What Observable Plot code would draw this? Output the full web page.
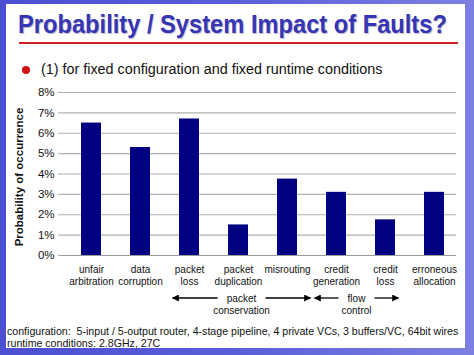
<!DOCTYPE html>
<html>
<head>
<meta charset="utf-8">
<script src="https://cdn.jsdelivr.net/npm/d3@7"></script>
<script src="https://cdn.jsdelivr.net/npm/@observablehq/plot@0.6"></script>
<style>
  html, body { margin: 0; padding: 0; }
  body {
    width: 474px; height: 355px; overflow: hidden; position: relative;
    background: linear-gradient(90deg, #4c4fd2 0%, #5a5ed8 50%, #7d80e2 100%);
    font-family: "Liberation Sans", Arial, sans-serif;
  }
  #panel {
    position: absolute; left: 6px; top: 4px; width: 459px; height: 344px; background: #fff;
  }
  #title {
    position: absolute; left: 18px; top: 10px; font-weight: bold; font-size: 25px;
    color: #3535b5; text-shadow: 1px 1px 1px #b8b8c8; white-space: nowrap;
    transform-origin: 0 0; transform: scaleX(0.947);
  }
  #rule { position: absolute; left: 19px; top: 42px; width: 439px; height: 2px; background: #d42020; }
  #dot { position: absolute; left: 22px; top: 66px; width: 8px; height: 8px; border-radius: 50%; background: #d41010; }
  #bullet { position: absolute; left: 41px; top: 61px; font-size: 14px; color: #111; white-space: nowrap; transform-origin: 0 0; transform: scaleX(1.025); }
  #caption { position: absolute; left: 7px; top: 326px; font-size: 11px; line-height: 11.5px; color: #111; white-space: nowrap; transform-origin: 0 0; transform: scaleX(0.964); }
  #chart { position: absolute; left: 0; top: 0; }
</style>
</head>
<body>
<div id="panel"></div>
<div id="title">Probability / System Impact of Faults?</div>
<div id="rule"></div>
<div id="dot"></div>
<div id="bullet">(1) for fixed configuration and fixed runtime conditions</div>
<div id="chart"></div>
<div id="caption">configuration:&nbsp; 5-input / 5-output router, 4-stage pipeline, 4 private VCs, 3 buffers/VC, 64bit wires<br>runtime conditions: 2.8GHz, 27C</div>
<script>
const faults = ["unfair arbitration", "data corruption", "packet loss", "packet duplication", "misrouting", "credit generation", "credit loss", "erroneous allocation"];
const tickLabels = [["unfair", "arbitration"], ["data", "corruption"], ["packet", "loss"], ["packet", "duplication"], ["misrouting"], ["credit", "generation"], ["credit", "loss"], ["erroneous", "allocation"]];
const probability = [0.065, 0.053, 0.067, 0.015, 0.0375, 0.031, 0.0175, 0.031];
const yTicks = [0, 0.01, 0.02, 0.03, 0.04, 0.05, 0.06, 0.07, 0.08];
const groups = [
  {label: ["packet", "conservation"], from: "packet loss", to: "misrouting", padL: 8, padR: -1},
  {label: ["flow", "control"], from: "credit generation", to: "credit loss", padL: 3, padR: -11}
];

const data = faults.map((f, i) => ({fault: f, p: probability[i]}));
const labelOf = new Map(faults.map((f, i) => [f, tickLabels[i].join("\n")]));

const chart = Plot.plot({
  width: 474,
  height: 330,
  marginTop: 92,
  marginBottom: 75,
  marginLeft: 62,
  marginRight: 18,
  style: {background: "transparent", fontFamily: "Liberation Sans, Arial, sans-serif", color: "#111"},
  x: {domain: faults, paddingInner: 0.6, paddingOuter: 0.28, align: 0.6, label: null},
  y: {domain: [0, 0.08], label: null},
  marks: [
    Plot.gridY(yTicks, {stroke: "#b0b0b0", strokeOpacity: 1, strokeWidth: 1.2}),
    Plot.ruleX([0], {frameAnchor: "left", stroke: "#aaa"}),
    Plot.axisY({ticks: yTicks, tickFormat: d3.format(".0%"), tickSize: 4, tickPadding: 4, fontSize: 11.5, stroke: "#aaa", label: null}),
    Plot.barY(data, {x: "fault", y: "p", fill: "#000080"}),
    Plot.ruleY([0], {stroke: "#999"}),
    Plot.axisX({tickSize: 0, tickPadding: 9, fontSize: 10, lineHeight: 1.2, tickFormat: d => labelOf.get(d), label: null})
  ]
});
document.getElementById("chart").appendChild(chart);

// y-axis title
const svg = d3.select(chart);
svg.append("text")
  .attr("transform", "translate(23,177) rotate(-90)")
  .attr("text-anchor", "middle")
  .attr("font-size", 11.5).attr("font-weight", "bold").attr("fill", "#111")
  .text("Probability of occurrence");

// group annotations (positions derived from the x scale)
const xs = chart.scale("x");
const bw = xs.bandwidth;
const step = xs.step;
const defs = svg.append("defs");
defs.append("marker").attr("id", "ah").attr("viewBox", "0 0 10 10").attr("refX", 9).attr("refY", 5)
  .attr("markerWidth", 9).attr("markerHeight", 7).attr("orient", "auto-start-reverse").attr("markerUnits", "userSpaceOnUse")
  .append("path").attr("d", "M0,0 L10,5 L0,10 z").attr("fill", "#000");
const ay = 298;
groups.forEach(g => {
  const x0 = xs.apply(g.from) - (step - bw) / 2 + g.padL;
  const x1 = xs.apply(g.to) + bw + (step - bw) / 2 + g.padR;
  const cx = (x0 + x1) / 2;
  const half = g.label[0].length * 3 + 6;
  const ann = svg.append("g");
  ann.append("line").attr("x1", cx - half).attr("x2", x0).attr("y1", ay).attr("y2", ay)
    .attr("stroke", "#000").attr("stroke-width", 1.3).attr("marker-end", "url(#ah)");
  ann.append("line").attr("x1", cx + half).attr("x2", x1).attr("y1", ay).attr("y2", ay)
    .attr("stroke", "#000").attr("stroke-width", 1.3).attr("marker-end", "url(#ah)");
  ann.append("text").attr("x", cx).attr("y", ay + 4).attr("text-anchor", "middle").attr("font-size", 10).attr("fill", "#111").text(g.label[0]);
  ann.append("text").attr("x", cx).attr("y", ay + 16).attr("text-anchor", "middle").attr("font-size", 10).attr("fill", "#111").text(g.label[1]);
});
</script>
</body>
</html>
